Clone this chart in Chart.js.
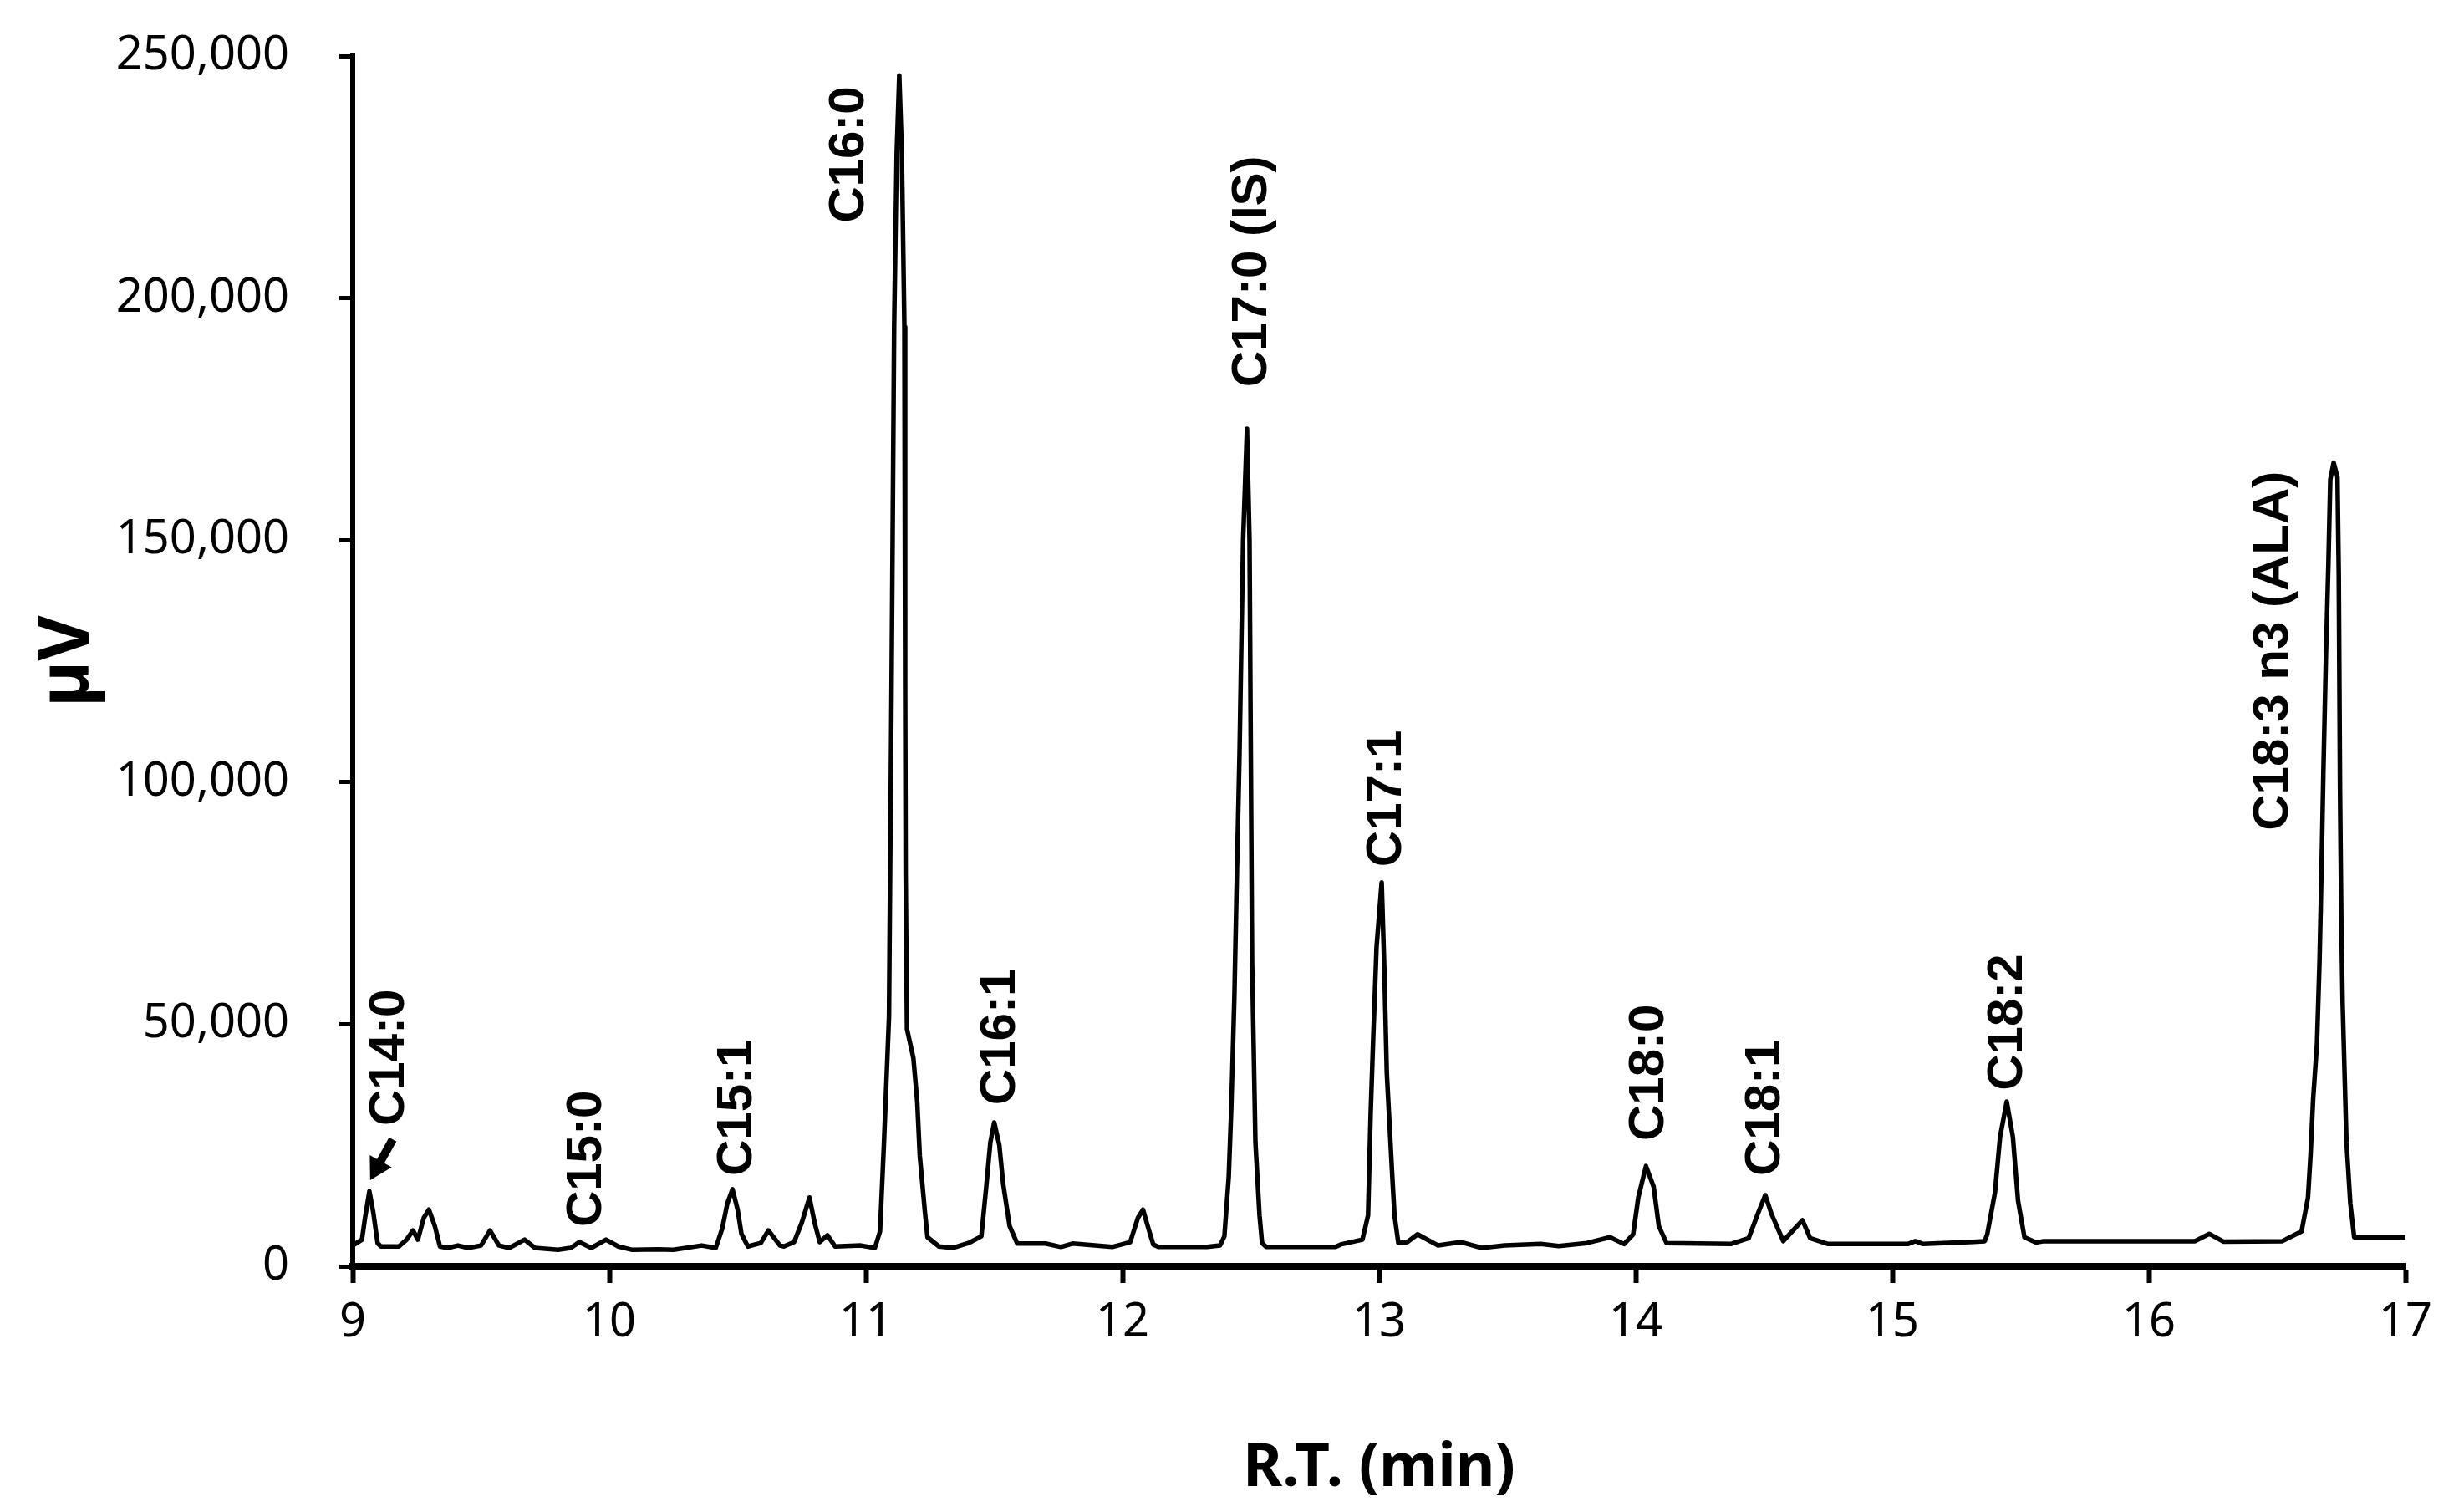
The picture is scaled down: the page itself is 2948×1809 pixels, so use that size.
<!DOCTYPE html>
<html>
<head>
<meta charset="utf-8">
<script src="https://cdn.jsdelivr.net/npm/chart.js@4.4.1/dist/chart.umd.min.js"></script>
<style>
  html, body { margin: 0; padding: 0; background: #fff; }
  canvas { display: block; }
</style>
</head>
<body>
<canvas id="chart" width="2948" height="1809"></canvas>
<script>
// chromatogram trace: retention time (min) and detector signal (µV)
const rt = [
  9.00, 9.036, 9.048, 9.065, 9.08, 9.097, 9.11, 9.18, 9.21, 9.235,
  9.254, 9.277, 9.297, 9.32, 9.34, 9.37, 9.41, 9.45, 9.50, 9.535,
  9.57, 9.61, 9.67, 9.71, 9.80, 9.85, 9.883, 9.93, 9.987, 10.035,
  10.09, 10.19, 10.25, 10.36, 10.415, 10.44, 10.46, 10.48, 10.50, 10.515,
  10.54, 10.59, 10.62, 10.665, 10.68, 10.72, 10.75, 10.78, 10.80, 10.82,
  10.85, 10.88, 10.98, 11.035, 11.055, 11.07, 11.09, 11.10, 11.11, 11.12,
  11.13, 11.14, 11.15, 11.153, 11.155, 11.16, 11.185, 11.20, 11.21, 11.23,
  11.24, 11.285, 11.34, 11.40, 11.45, 11.47, 11.485, 11.50, 11.52, 11.535,
  11.56, 11.59, 11.70, 11.76, 11.805, 11.96, 12.03, 12.06, 12.08, 12.10,
  12.12, 12.14, 12.33, 12.38, 12.397, 12.414, 12.424, 12.436, 12.446, 12.456,
  12.47, 12.485, 12.495, 12.50, 12.505, 12.518, 12.534, 12.544, 12.56, 12.83,
  12.85, 12.935, 12.957, 12.967, 12.977, 12.99, 13.01, 13.02, 13.03, 13.05,
  13.06, 13.075, 13.11, 13.15, 13.23, 13.32, 13.40, 13.49, 13.63, 13.70,
  13.81, 13.90, 13.955, 13.99, 14.01, 14.04, 14.07, 14.09, 14.12, 14.37,
  14.44, 14.475, 14.505, 14.53, 14.575, 14.62, 14.65, 14.68, 14.75, 15.06,
  15.09, 15.12, 15.30, 15.36, 15.37, 15.40, 15.42, 15.446, 15.47, 15.49,
  15.515, 15.56, 15.59, 16.18, 16.235, 16.29, 16.52, 16.595, 16.62, 16.63,
  16.64, 16.655, 16.665, 16.67, 16.675, 16.68, 16.69, 16.70, 16.707, 16.72,
  16.735, 16.74, 16.745, 16.75, 16.755, 16.77, 16.785, 16.80, 17.00
];
const signal = [
  4300, 5500, 10000, 15500, 11200, 4800, 4100, 4100, 5500, 7400,
  5500, 10000, 11700, 8300, 4100, 3800, 4300, 3800, 4300, 7400,
  4300, 3800, 5500, 3800, 3400, 3800, 5000, 3800, 5500, 4100,
  3400, 3500, 3400, 4300, 3800, 7800, 13000, 15900, 11700, 6700,
  4100, 4800, 7400, 4300, 4100, 5000, 9000, 14200, 9000, 5000,
  6400, 4100, 4300, 3800, 7200, 25000, 51500, 120000, 194000, 230000,
  246000, 230000, 194000, 120000, 81000, 49000, 43000, 34000, 22800, 11200,
  6000, 4100, 3800, 4800, 6200, 17000, 25600, 29700, 25000, 17000,
  8300, 4700, 4700, 4000, 4700, 4000, 5000, 10000, 11700, 8000,
  4500, 4000, 4000, 4300, 6200, 18500, 32800, 55800, 81700, 106000,
  150000, 173000, 150000, 106000, 63000, 25600, 10500, 4800, 4000, 4000,
  4500, 5500, 10500, 31400, 47000, 65900, 79300, 62000, 40000, 19900,
  10500, 4800, 5000, 6600, 4300, 5000, 3800, 4300, 4600, 4200,
  4800, 6000, 4600, 6600, 14200, 20700, 16400, 8300, 4800, 4600,
  5800, 10700, 14700, 10700, 5200, 7800, 9500, 5800, 4600, 4600,
  5200, 4600, 5000, 5200, 6600, 15200, 26700, 34000, 26700, 13500,
  6000, 4900, 5200, 5200, 6700, 5100, 5200, 7200, 14200, 23000,
  34500, 46000, 63000, 75000, 88000, 102000, 126000, 145900, 162500, 166000,
  163000, 143000, 98000, 71000, 54500, 25700, 13000, 6000, 6000
];

// axis ticks
const xTicks = [9, 10, 11, 12, 13, 14, 15, 16, 17];
const yTicks = [0, 50000, 100000, 150000, 200000, 250000];

// peak labels: name, retention time of the label centre, signal where the text starts
const peakNames = ['C14:0', 'C15:0', 'C15:1', 'C16:0', 'C16:1', 'C17:0 (IS)',
                   'C17:1', 'C18:0', 'C18:1', 'C18:2', 'C18:3 n3 (ALA)'];
const peakLabelRt = [9.13, 9.896, 10.485, 10.92, 11.51, 12.49, 13.016, 14.036, 14.49, 15.436, 16.47];
const peakLabelBase = [29000, 8100, 18650, 215500, 33300, 181600, 82500, 25900, 18650, 36300, 90000];

// arrow pointing at the C14:0 peak (tail -> tip, in data units)
const arrowRt = [9.156, 9.068];
const arrowSignal = [26200, 17800];

const BLACK = '#000';
const labelFont = 'bold 60px "Liberation Sans", Arial, sans-serif';

const peakLabels = {
  id: 'peakLabels',
  afterDatasetsDraw(chart) {
    const { ctx, scales: { x, y } } = chart;
    ctx.save();
    ctx.fillStyle = BLACK;
    ctx.font = labelFont;
    ctx.textAlign = 'left';
    ctx.textBaseline = 'alphabetic';
    const capH = 60 * 0.716;
    peakNames.forEach((name, i) => {
      const px = x.getPixelForValue(peakLabelRt[i]);
      const py = y.getPixelForValue(peakLabelBase[i]);
      ctx.save();
      ctx.translate(px, py);
      ctx.rotate(-Math.PI / 2);
      ctx.fillText(name, 0, capH / 2);
      ctx.restore();
    });

    // arrow
    const x0 = x.getPixelForValue(arrowRt[0]), y0 = y.getPixelForValue(arrowSignal[0]);
    const x1 = x.getPixelForValue(arrowRt[1]), y1 = y.getPixelForValue(arrowSignal[1]);
    const len = Math.hypot(x1 - x0, y1 - y0);
    const ux = (x1 - x0) / len, uy = (y1 - y0) / len;
    const headLen = 26, headHalf = 15;
    const bx = x1 - ux * headLen, by = y1 - uy * headLen;
    ctx.strokeStyle = BLACK;
    ctx.lineWidth = 10;
    ctx.lineCap = 'butt';
    ctx.beginPath();
    ctx.moveTo(x0, y0);
    ctx.lineTo(bx + ux * 2, by + uy * 2);
    ctx.stroke();
    ctx.beginPath();
    ctx.moveTo(x1, y1);
    ctx.lineTo(bx - uy * headHalf, by + ux * headHalf);
    ctx.lineTo(bx + uy * headHalf, by - ux * headHalf);
    ctx.closePath();
    ctx.fill();
    ctx.restore();
  }
};

const tickFont = { family: '"Noto Sans", "Open Sans", sans-serif', size: 56, lineHeight: 1.2 };

new Chart(document.getElementById('chart').getContext('2d'), {
  type: 'line',
  data: {
    datasets: [{
      data: rt.map((t, i) => ({ x: t, y: signal[i] })),
      borderColor: BLACK,
      borderWidth: 5.5,
      borderJoinStyle: 'round',
      pointRadius: 0,
      tension: 0,
      fill: false,
    }],
  },
  options: {
    responsive: false,
    animation: false,
    devicePixelRatio: 1,
    layout: { padding: { left: 0, right: 70, top: 67, bottom: 0 } },
    plugins: {
      legend: { display: false },
      tooltip: { enabled: false },
    },
    scales: {
      x: {
        type: 'linear',
        min: xTicks[0],
        max: xTicks[xTicks.length - 1],
        afterBuildTicks: (axis) => { axis.ticks = xTicks.map(v => ({ value: v })); },
        afterFit: (axis) => { axis.height = 294; },
        ticks: { color: BLACK, font: tickFont, padding: 14, maxRotation: 0 },
        grid: { display: true, drawOnChartArea: false, drawTicks: true, tickLength: 20, tickWidth: 6, tickColor: BLACK },
        border: { display: true, color: BLACK, width: 8 },
        title: {
          display: true,
          text: 'R.T. (min)',
          color: BLACK,
          font: { family: '"Noto Sans", sans-serif', size: 72, weight: 'bold', lineHeight: 1.2 },
          padding: { top: 0, bottom: 8 },
        },
      },
      y: {
        min: yTicks[0],
        max: yTicks[yTicks.length - 1],
        afterBuildTicks: (axis) => { axis.ticks = yTicks.map(v => ({ value: v })); },
        afterFit: (axis) => {
          axis.width = 422;
          // the large tick padding should not push the plot area down
          axis.paddingTop = 34;
          axis.paddingBottom = 34;
        },
        ticks: {
          color: BLACK,
          font: tickFont,
          padding: 60,
          callback: (v) => v.toLocaleString('en-US'),
        },
        grid: { display: true, drawOnChartArea: false, drawTicks: true, tickLength: 16, tickWidth: 5, tickColor: BLACK },
        border: { display: true, color: BLACK, width: 6 },
        title: {
          display: true,
          text: 'µV',
          color: BLACK,
          font: { family: '"Noto Sans", sans-serif', size: 84, weight: 'bold', lineHeight: 1.2 },
          padding: { top: 32, bottom: 0 },
        },
      },
    },
  },
  plugins: [peakLabels],
});
</script>
</body>
</html>
